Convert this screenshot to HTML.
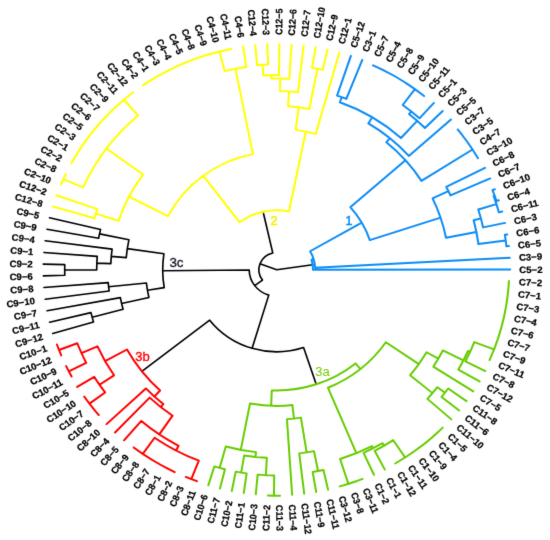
<!DOCTYPE html>
<html><head><meta charset="utf-8"><style>
html,body{margin:0;padding:0;background:#fff;}
svg{display:block;}
</style></head><body>
<svg width="550" height="540" viewBox="0 0 550 540">
<defs><filter id="soft" x="0" y="0" width="550" height="540" filterUnits="userSpaceOnUse"><feConvolveMatrix order="3" kernelMatrix="0.01 0.07 0.01 0.07 0.68 0.07 0.01 0.07 0.01" edgeMode="duplicate"/></filter></defs>
<rect width="550" height="540" fill="#fff"/>
<g filter="url(#soft)">
<g transform="translate(276.7,269.7) scale(1,0.966)" fill="none" stroke-width="1.6" stroke-linecap="round" stroke-linejoin="round">
<path stroke="#000000" stroke-width="1.65" d="M0.00,0.00L35.93,-5.20M-0.00,0.00L-16.71,-6.14M-3.94,-17.36A17.80,17.80 0 0 0 -14.24,10.68M-3.94,-17.36L-13.61,-59.98M-14.24,10.68L-22.00,16.50M-27.50,0.26A27.50,27.50 0 0 0 -7.95,26.32M-27.50,0.26L-114.00,1.06M-112.81,-16.45A114.00,114.00 0 0 0 -112.48,18.56M-112.81,-16.45L-149.42,-21.79M-147.79,-30.96A151.00,151.00 0 0 0 -150.48,-12.54M-147.79,-30.96L-177.16,-37.11M-176.13,-41.70A181.00,181.00 0 0 0 -178.06,-32.50M-176.13,-41.70L-227.22,-53.79M-178.06,-32.50L-229.71,-41.92M-150.48,-12.54L-165.43,-13.79M-164.63,-21.29A166.00,166.00 0 0 0 -165.88,-6.26M-164.63,-21.29L-231.57,-29.94M-165.88,-6.26L-179.87,-6.79M-179.47,-13.79A180.00,180.00 0 0 0 -180.00,0.22M-179.47,-13.79L-232.81,-17.88M-180.00,0.22L-212.00,0.26M-211.94,-5.24A212.00,212.00 0 0 0 -211.92,5.76M-211.94,-5.24L-233.43,-5.78M-211.92,5.76L-233.41,6.35M-112.48,18.56L-129.25,21.32M-130.28,13.74A131.00,131.00 0 0 0 -127.79,28.83M-130.28,13.74L-168.07,17.73M-168.47,13.36A169.00,169.00 0 0 0 -167.55,22.08M-168.47,13.36L-232.77,18.45M-167.55,22.08L-231.50,30.51M-127.79,28.83L-155.10,35.00M-156.35,28.93A159.00,159.00 0 0 0 -153.62,41.01M-156.35,28.93L-229.60,42.48M-153.62,41.01L-184.54,49.26M-185.75,44.45A191.00,191.00 0 0 0 -183.20,54.03M-185.75,44.45L-227.09,54.34M-183.20,54.03L-223.96,66.06M-7.95,26.32L-24.58,81.37M-67.03,52.27A85.00,85.00 0 0 0 26.87,80.64M-67.03,52.27L-134.84,105.16M26.87,80.64L39.52,118.59"/>
<path stroke="#0A8CF5" stroke-width="2.0" d="M36.30,-0.04A36.30,36.30 0 0 0 34.82,-10.25M36.30,-0.04L233.50,-0.29M34.82,-10.25L36.93,-10.88M38.45,-2.05A38.50,38.50 0 0 0 33.42,-19.12M38.45,-2.05L233.17,-12.40M33.42,-19.12L85.06,-48.67M93.10,-30.61A98.00,98.00 0 0 0 73.57,-64.74M93.10,-30.61L163.87,-53.88M169.31,-33.04A172.50,172.50 0 0 0 155.88,-73.88M169.31,-33.04L199.73,-38.97M201.76,-26.59A203.50,203.50 0 0 0 196.95,-51.21M201.76,-26.59L229.02,-30.18M229.73,-24.23A231.00,231.00 0 0 0 228.16,-36.12M229.73,-24.23L232.21,-24.49M228.16,-36.12L230.63,-36.51M196.95,-51.21L204.21,-53.09M206.41,-43.76A211.00,211.00 0 0 0 201.59,-62.32M206.41,-43.76L228.42,-48.43M201.59,-62.32L219.74,-67.93M222.22,-59.32A230.00,230.00 0 0 0 216.93,-76.43M222.22,-59.32L225.60,-60.22M216.93,-76.43L217.87,-76.76M219.79,-71.08A231.00,231.00 0 0 0 215.81,-82.39M219.79,-71.08L222.17,-71.85M215.81,-82.39L218.14,-83.28M155.88,-73.88L171.69,-81.38M173.75,-76.89A190.00,190.00 0 0 0 169.52,-85.81M173.75,-76.89L213.53,-94.49M169.52,-85.81L208.33,-105.45M73.57,-64.74L128.75,-113.30M144.76,-91.96A171.50,171.50 0 0 0 109.62,-131.90M144.76,-91.96L195.83,-124.40M201.28,-115.38A232.00,232.00 0 0 0 189.98,-133.16M195.02,-125.67A232.00,232.00 0 0 0 184.65,-140.46M188.23,-135.62A232.00,232.00 0 0 0 180.94,-145.21M109.62,-131.90L113.13,-136.13M132.11,-117.80A177.00,177.00 0 0 0 91.64,-151.43M132.11,-117.80L174.28,-155.40M91.64,-151.43L95.52,-157.85M124.29,-136.35A184.50,184.50 0 0 0 63.14,-173.36M124.29,-136.35L140.46,-154.09M148.21,-146.65A208.50,208.50 0 0 0 132.34,-161.12M148.21,-146.65L165.98,-164.24M132.34,-161.12L134.56,-163.82M142.75,-156.74A212.00,212.00 0 0 0 126.01,-170.49M142.75,-156.74L157.23,-172.63M126.01,-170.49L138.20,-186.97M147.42,-179.79A232.50,232.50 0 0 0 128.62,-193.68M137.89,-187.19A232.50,232.50 0 0 0 119.04,-199.71M127.99,-194.10A232.50,232.50 0 0 0 109.85,-204.91M117.74,-200.48A232.50,232.50 0 0 0 101.79,-209.04M107.18,-206.32A232.50,232.50 0 0 0 96.33,-211.61M63.14,-173.36L65.02,-178.53M69.64,-176.78A190.00,190.00 0 0 0 60.37,-180.16M69.64,-176.78L85.58,-217.25M60.37,-180.16L74.19,-221.40"/>
<path stroke="#FFFF00" stroke-width="2.0" d="M12.27,-60.26A61.50,61.50 0 0 0 -37.07,-49.07M12.27,-60.26L29.12,-143.07M39.14,-140.66A146.00,146.00 0 0 0 18.96,-144.76M39.14,-140.66L62.60,-224.95M18.96,-144.76L22.01,-168.06M32.59,-166.34A169.50,169.50 0 0 0 11.34,-169.12M32.59,-166.34L40.77,-208.04M46.15,-206.91A212.00,212.00 0 0 0 35.35,-209.03M46.15,-206.91L50.84,-227.90M35.35,-209.03L38.94,-230.23M11.34,-169.12L12.37,-184.59M21.34,-183.76A185.00,185.00 0 0 0 3.38,-184.97M21.34,-183.76L26.94,-231.94M3.38,-184.97L3.61,-197.97M12.60,-197.60A198.00,198.00 0 0 0 -5.38,-197.93M12.60,-197.60L14.86,-233.03M-5.38,-197.93L-5.48,-201.43M2.37,-201.49A201.50,201.50 0 0 0 -13.32,-201.06M2.37,-201.49L2.75,-233.48M-13.32,-201.06L-14.04,-212.04M-8.53,-212.33A212.50,212.50 0 0 0 -19.54,-211.60M-8.53,-212.33L-9.38,-233.31M-19.54,-211.60L-21.47,-232.51M-37.07,-49.07L-73.54,-97.34M-23.74,-119.67A122.00,122.00 0 0 0 -108.62,-55.54M-23.74,-119.67L-41.25,-207.95M-30.43,-209.81A212.00,212.00 0 0 0 -51.97,-205.53M-30.43,-209.81L-33.51,-231.08M-51.97,-205.53L-57.12,-225.89M-45.36,-228.54A233.00,233.00 0 0 0 -68.72,-222.63M-57.17,-225.88A233.00,233.00 0 0 0 -80.10,-218.80M-68.81,-222.61A233.00,233.00 0 0 0 -91.17,-214.42M-80.27,-218.74A233.00,233.00 0 0 0 -101.84,-209.57M-91.52,-214.27A233.00,233.00 0 0 0 -111.91,-204.36M-102.52,-209.23A233.00,233.00 0 0 0 -121.08,-199.07M-113.24,-203.63A233.00,233.00 0 0 0 -128.74,-194.20M-123.66,-197.48A233.00,233.00 0 0 0 -133.74,-190.80M-108.62,-55.54L-147.80,-75.57M-133.64,-98.47A166.00,166.00 0 0 0 -158.07,-50.69M-133.64,-98.47L-170.27,-125.45M-138.67,-159.70A211.50,211.50 0 0 0 -193.62,-85.12M-138.67,-159.70L-152.76,-175.93M-143.46,-183.60A233.00,233.00 0 0 0 -161.65,-167.80M-152.80,-175.90A233.00,233.00 0 0 0 -170.08,-159.25M-161.72,-167.74A233.00,233.00 0 0 0 -178.00,-150.36M-170.21,-159.12A233.00,233.00 0 0 0 -185.33,-141.21M-178.24,-150.07A233.00,233.00 0 0 0 -191.98,-132.03M-185.79,-140.61A233.00,233.00 0 0 0 -197.78,-123.17M-192.84,-130.78A233.00,233.00 0 0 0 -202.43,-115.38M-199.36,-120.59A233.00,233.00 0 0 0 -205.35,-110.08M-193.62,-85.12L-213.30,-93.77M-210.79,-99.28A233.00,233.00 0 0 0 -215.66,-88.20M-158.07,-50.69L-180.92,-58.02M-179.36,-62.70A190.00,190.00 0 0 0 -182.37,-53.31M-179.36,-62.70L-220.42,-77.06M-182.37,-53.31L-224.12,-65.51"/>
<path stroke="#FF0000" stroke-width="2.0" d="M-149.72,82.62A171.00,171.00 0 0 0 -116.60,125.08M-149.72,82.62L-171.60,94.70M-179.23,79.32A196.00,196.00 0 0 0 -162.66,109.35M-179.23,79.32L-195.24,86.40M-199.46,76.15A213.50,213.50 0 0 0 -190.49,96.42M-199.46,76.15L-217.67,83.11M-219.76,77.43A233.00,233.00 0 0 0 -215.44,88.73M-190.49,96.42L-207.89,105.22M-210.55,99.79A233.00,233.00 0 0 0 -205.08,110.59M-162.66,109.35L-177.18,119.12M-182.41,110.95A213.50,213.50 0 0 0 -171.59,127.04M-182.41,110.95L-199.50,121.34M-171.59,127.04L-187.26,138.65M-192.52,131.25A233.00,233.00 0 0 0 -181.72,145.83M-185.44,141.07A233.00,233.00 0 0 0 -177.87,150.50M-116.60,125.08L-122.39,131.30M-130.83,122.90A179.50,179.50 0 0 0 -113.42,139.12M-130.83,122.90L-170.18,159.87M-113.42,139.12L-115.95,142.23M-127.04,132.41A183.50,183.50 0 0 0 -104.10,151.11M-127.04,132.41L-161.66,168.49M-104.10,151.11L-117.43,170.46M-135.36,156.61A207.00,207.00 0 0 0 -98.10,182.28M-135.36,156.61L-152.69,176.65M-98.10,182.28L-100.70,187.12M-122.11,173.91A212.50,212.50 0 0 0 -77.88,197.71M-122.11,173.91L-133.89,190.69M-143.01,183.95A233.00,233.00 0 0 0 -124.45,196.98M-133.27,191.12A233.00,233.00 0 0 0 -115.38,202.43M-123.17,197.78A233.00,233.00 0 0 0 -107.41,206.77M-112.74,203.91A233.00,233.00 0 0 0 -102.01,209.48M-77.88,197.71L-85.40,216.79M-90.99,214.50A233.00,233.00 0 0 0 -79.74,218.93"/>
<path stroke="#66CC00" stroke-width="2.0" d="M-4.92,124.90A125.00,125.00 0 0 0 78.86,96.99M-4.92,124.90L-5.55,140.89M-26.67,138.46A141.00,141.00 0 0 0 15.70,140.12M-26.67,138.46L-35.93,186.57M-50.93,183.05A190.00,190.00 0 0 0 -20.69,188.87M-50.93,183.05L-57.10,205.20M-62.41,203.65A213.00,213.00 0 0 0 -51.75,206.62M-62.41,203.65L-68.41,223.25M-51.75,206.62L-56.73,226.50M-20.69,188.87L-21.24,193.84M-32.52,192.27A195.00,195.00 0 0 0 -9.88,194.75M-32.52,192.27L-35.52,210.02M-40.96,209.02A213.00,213.00 0 0 0 -30.06,210.87M-40.96,209.02L-44.90,229.14M-30.06,210.87L-32.95,231.16M-9.88,194.75L-10.80,212.73M-19.07,212.14A213.00,213.00 0 0 0 -2.50,212.99M-19.07,212.14L-20.91,232.56M-2.50,212.99L-2.75,233.98M-8.83,233.83A234.00,234.00 0 0 0 3.32,233.98M15.70,140.12L17.26,154.04M10.24,154.66A155.00,155.00 0 0 0 24.24,153.09M10.24,154.66L15.43,232.99M24.24,153.09L29.94,189.14M22.56,190.17A191.50,191.50 0 0 0 37.28,187.84M22.56,190.17L27.50,231.87M37.28,187.84L41.37,208.43M35.95,209.44A212.50,212.50 0 0 0 46.77,207.29M35.95,209.44L39.50,230.13M46.77,207.29L51.39,227.77M78.86,96.99L83.59,102.81M51.23,122.20A132.50,132.50 0 0 0 109.17,75.08M51.23,122.20L79.64,189.98M63.39,196.00A206.00,206.00 0 0 0 95.34,182.61M63.39,196.00L71.70,221.69M63.01,224.32A233.00,233.00 0 0 0 80.27,218.74M74.57,220.75A233.00,233.00 0 0 0 85.93,216.58M95.34,182.61L96.49,184.83M86.85,189.55A208.50,208.50 0 0 0 105.88,179.61M86.85,189.55L97.26,212.28M105.88,179.61L107.41,182.20M97.96,187.45A211.50,211.50 0 0 0 116.57,176.47M97.96,187.45L108.15,206.95M116.57,176.47L128.43,194.41M118.49,200.62A233.00,233.00 0 0 0 138.04,187.71M128.74,194.20A233.00,233.00 0 0 0 147.01,180.77M138.65,187.26A233.00,233.00 0 0 0 155.07,173.90M148.18,179.81A233.00,233.00 0 0 0 161.72,167.74M157.31,171.88A233.00,233.00 0 0 0 166.02,163.48M109.17,75.08L142.13,97.75M133.39,109.38A172.50,172.50 0 0 0 149.86,85.43M133.39,109.38L155.81,127.77M150.72,133.74A201.50,201.50 0 0 0 160.67,121.60M150.72,133.74L174.66,154.97M160.67,121.60L168.25,127.34M164.88,131.66A211.00,211.00 0 0 0 171.49,122.93M164.88,131.66L182.47,145.70M171.49,122.93L189.78,136.03M149.86,85.43L161.59,92.11M156.60,100.37A186.00,186.00 0 0 0 166.15,83.61M156.60,100.37L196.59,126.00M166.15,83.61L186.69,93.95M181.58,103.49A209.00,209.00 0 0 0 191.31,84.15M181.58,103.49L202.86,115.63M191.31,84.15L193.42,85.08M188.76,94.96A211.30,211.30 0 0 0 197.56,74.96M188.76,94.96L208.59,104.94M197.56,74.96L217.38,82.49M212.84,93.57A232.50,232.50 0 0 0 221.34,71.18M217.41,82.40A232.50,232.50 0 0 0 224.68,59.78M221.39,71.00A232.50,232.50 0 0 0 227.41,48.41M224.78,59.41A232.50,232.50 0 0 0 229.49,37.28M227.56,47.67A232.50,232.50 0 0 0 230.95,26.82M229.73,35.79A232.50,232.50 0 0 0 231.82,17.81M231.28,23.82A232.50,232.50 0 0 0 232.20,11.78"/>
</g>
<g font-family="&quot;Liberation Sans&quot;, Arial, sans-serif" font-size="9.6" font-weight="bold" fill="#000" stroke="#000" stroke-width="0.25">
<text transform="translate(519.30,269.71) scale(1,0.966) rotate(-0.070) scale(1.0000,1)" dy="0.35em">C5−2</text>
<text transform="translate(518.96,257.51) scale(1,0.966) rotate(-3.045) scale(0.9999,1)" dy="0.35em">C3−9</text>
<text transform="translate(517.96,245.35) scale(1,0.966) rotate(-6.020) scale(0.9996,1)" dy="0.35em">C6−5</text>
<text transform="translate(516.31,233.25) scale(1,0.966) rotate(-8.996) scale(0.9990,1)" dy="0.35em">C6−6</text>
<text transform="translate(514.01,221.25) scale(1,0.966) rotate(-11.971) scale(0.9983,1)" dy="0.35em">C6−3</text>
<text transform="translate(511.07,209.38) scale(1,0.966) rotate(-14.946) scale(0.9973,1)" dy="0.35em">C6−11</text>
<text transform="translate(507.50,197.68) scale(1,0.966) rotate(-17.921) scale(0.9962,1)" dy="0.35em">C6−4</text>
<text transform="translate(503.30,186.17) scale(1,0.966) rotate(-20.896) scale(0.9949,1)" dy="0.35em">C6−10</text>
<text transform="translate(498.49,174.89) scale(1,0.966) rotate(-23.872) scale(0.9934,1)" dy="0.35em">C6−7</text>
<text transform="translate(493.08,163.86) scale(1,0.966) rotate(-26.847) scale(0.9918,1)" dy="0.35em">C6−8</text>
<text transform="translate(487.08,153.12) scale(1,0.966) rotate(-29.822) scale(0.9901,1)" dy="0.35em">C3−10</text>
<text transform="translate(480.52,142.69) scale(1,0.966) rotate(-32.797) scale(0.9883,1)" dy="0.35em">C4−7</text>
<text transform="translate(473.40,132.61) scale(1,0.966) rotate(-35.772) scale(0.9863,1)" dy="0.35em">C3−5</text>
<text transform="translate(465.75,122.90) scale(1,0.966) rotate(-38.748) scale(0.9843,1)" dy="0.35em">C3−7</text>
<text transform="translate(457.59,113.58) scale(1,0.966) rotate(-41.723) scale(0.9823,1)" dy="0.35em">C5−5</text>
<text transform="translate(448.94,104.69) scale(1,0.966) rotate(-44.698) scale(0.9802,1)" dy="0.35em">C5−3</text>
<text transform="translate(439.83,96.24) scale(1,0.966) rotate(-47.673) scale(0.9781,1)" dy="0.35em">C5−1</text>
<text transform="translate(430.27,88.26) scale(1,0.966) rotate(-50.649) scale(0.9761,1)" dy="0.35em">C5−11</text>
<text transform="translate(420.30,80.77) scale(1,0.966) rotate(-53.624) scale(0.9741,1)" dy="0.35em">C5−10</text>
<text transform="translate(409.94,73.79) scale(1,0.966) rotate(-56.599) scale(0.9721,1)" dy="0.35em">C5−9</text>
<text transform="translate(399.21,67.34) scale(1,0.966) rotate(-59.574) scale(0.9703,1)" dy="0.35em">C5−8</text>
<text transform="translate(388.16,61.43) scale(1,0.966) rotate(-62.549) scale(0.9685,1)" dy="0.35em">C5−4</text>
<text transform="translate(376.80,56.09) scale(1,0.966) rotate(-65.525) scale(0.9669,1)" dy="0.35em">C5−7</text>
<text transform="translate(365.17,51.33) scale(1,0.966) rotate(-68.500) scale(0.9654,1)" dy="0.35em">C3−1</text>
<text transform="translate(353.30,47.15) scale(1,0.966) rotate(-71.475) scale(0.9640,1)" dy="0.35em">C5−12</text>
<text transform="translate(341.22,43.57) scale(1,0.966) rotate(-74.450) scale(0.9629,1)" dy="0.35em">C12−1</text>
<text transform="translate(328.97,40.61) scale(1,0.966) rotate(-77.425) scale(0.9619,1)" dy="0.35em">C12−9</text>
<text transform="translate(316.57,38.26) scale(1,0.966) rotate(-80.401) scale(0.9611,1)" dy="0.35em">C12−10</text>
<text transform="translate(304.07,36.54) scale(1,0.966) rotate(-83.376) scale(0.9605,1)" dy="0.35em">C12−7</text>
<text transform="translate(291.48,35.45) scale(1,0.966) rotate(-86.351) scale(0.9602,1)" dy="0.35em">C12−6</text>
<text transform="translate(278.86,34.99) scale(1,0.966) rotate(-89.326) scale(0.9600,1)" dy="0.35em">C12−5</text>
<text transform="translate(266.23,35.16) scale(1,0.966) rotate(-92.301) rotate(180) scale(0.9601,1)" text-anchor="end" dy="0.35em">C12−3</text>
<text transform="translate(253.63,35.97) scale(1,0.966) rotate(-95.277) rotate(180) scale(0.9603,1)" text-anchor="end" dy="0.35em">C12−4</text>
<text transform="translate(241.08,37.41) scale(1,0.966) rotate(-98.252) rotate(180) scale(0.9608,1)" text-anchor="end" dy="0.35em">C4−6</text>
<text transform="translate(228.63,39.47) scale(1,0.966) rotate(-101.227) rotate(180) scale(0.9615,1)" text-anchor="end" dy="0.35em">C4−11</text>
<text transform="translate(216.31,42.16) scale(1,0.966) rotate(-104.202) rotate(180) scale(0.9624,1)" text-anchor="end" dy="0.35em">C4−10</text>
<text transform="translate(204.15,45.46) scale(1,0.966) rotate(-107.177) rotate(180) scale(0.9635,1)" text-anchor="end" dy="0.35em">C4−9</text>
<text transform="translate(192.18,49.36) scale(1,0.966) rotate(-110.153) rotate(180) scale(0.9647,1)" text-anchor="end" dy="0.35em">C4−8</text>
<text transform="translate(180.44,53.86) scale(1,0.966) rotate(-113.128) rotate(180) scale(0.9662,1)" text-anchor="end" dy="0.35em">C4−5</text>
<text transform="translate(168.95,58.94) scale(1,0.966) rotate(-116.103) rotate(180) scale(0.9677,1)" text-anchor="end" dy="0.35em">C4−4</text>
<text transform="translate(157.76,64.60) scale(1,0.966) rotate(-119.078) rotate(180) scale(0.9694,1)" text-anchor="end" dy="0.35em">C4−3</text>
<text transform="translate(146.88,70.80) scale(1,0.966) rotate(-122.053) rotate(180) scale(0.9713,1)" text-anchor="end" dy="0.35em">C4−1</text>
<text transform="translate(136.35,77.54) scale(1,0.966) rotate(-125.029) rotate(180) scale(0.9732,1)" text-anchor="end" dy="0.35em">C4−2</text>
<text transform="translate(126.20,84.81) scale(1,0.966) rotate(-128.004) rotate(180) scale(0.9752,1)" text-anchor="end" dy="0.35em">C2−12</text>
<text transform="translate(116.45,92.57) scale(1,0.966) rotate(-130.979) rotate(180) scale(0.9772,1)" text-anchor="end" dy="0.35em">C2−11</text>
<text transform="translate(107.13,100.80) scale(1,0.966) rotate(-133.954) rotate(180) scale(0.9793,1)" text-anchor="end" dy="0.35em">C2−9</text>
<text transform="translate(98.27,109.50) scale(1,0.966) rotate(-136.930) rotate(180) scale(0.9813,1)" text-anchor="end" dy="0.35em">C2−7</text>
<text transform="translate(89.88,118.63) scale(1,0.966) rotate(-139.905) rotate(180) scale(0.9834,1)" text-anchor="end" dy="0.35em">C2−6</text>
<text transform="translate(82.00,128.16) scale(1,0.966) rotate(-142.880) rotate(180) scale(0.9854,1)" text-anchor="end" dy="0.35em">C2−5</text>
<text transform="translate(74.64,138.08) scale(1,0.966) rotate(-145.855) rotate(180) scale(0.9874,1)" text-anchor="end" dy="0.35em">C2−3</text>
<text transform="translate(67.82,148.36) scale(1,0.966) rotate(-148.830) rotate(180) scale(0.9893,1)" text-anchor="end" dy="0.35em">C2−1</text>
<text transform="translate(61.57,158.96) scale(1,0.966) rotate(-151.806) rotate(180) scale(0.9911,1)" text-anchor="end" dy="0.35em">C2−2</text>
<text transform="translate(55.89,169.86) scale(1,0.966) rotate(-154.781) rotate(180) scale(0.9927,1)" text-anchor="end" dy="0.35em">C2−8</text>
<text transform="translate(50.81,181.03) scale(1,0.966) rotate(-157.756) rotate(180) scale(0.9943,1)" text-anchor="end" dy="0.35em">C2−10</text>
<text transform="translate(46.33,192.44) scale(1,0.966) rotate(-160.731) rotate(180) scale(0.9956,1)" text-anchor="end" dy="0.35em">C12−2</text>
<text transform="translate(42.47,204.06) scale(1,0.966) rotate(-163.706) rotate(180) scale(0.9969,1)" text-anchor="end" dy="0.35em">C12−8</text>
<text transform="translate(39.24,215.86) scale(1,0.966) rotate(-166.682) rotate(180) scale(0.9979,1)" text-anchor="end" dy="0.35em">C9−5</text>
<text transform="translate(36.65,227.80) scale(1,0.966) rotate(-169.657) rotate(180) scale(0.9987,1)" text-anchor="end" dy="0.35em">C9−9</text>
<text transform="translate(34.71,239.86) scale(1,0.966) rotate(-172.632) rotate(180) scale(0.9993,1)" text-anchor="end" dy="0.35em">C9−4</text>
<text transform="translate(33.41,252.00) scale(1,0.966) rotate(-175.607) rotate(180) scale(0.9998,1)" text-anchor="end" dy="0.35em">C9−1</text>
<text transform="translate(32.77,264.19) scale(1,0.966) rotate(-178.582) rotate(180) scale(1.0000,1)" text-anchor="end" dy="0.35em">C9−2</text>
<text transform="translate(32.79,276.39) scale(1,0.966) rotate(-181.558) rotate(180) scale(1.0000,1)" text-anchor="end" dy="0.35em">C9−6</text>
<text transform="translate(33.46,288.57) scale(1,0.966) rotate(-184.533) rotate(180) scale(0.9998,1)" text-anchor="end" dy="0.35em">C9−8</text>
<text transform="translate(34.79,300.71) scale(1,0.966) rotate(-187.508) rotate(180) scale(0.9993,1)" text-anchor="end" dy="0.35em">C9−10</text>
<text transform="translate(36.76,312.76) scale(1,0.966) rotate(-190.483) rotate(180) scale(0.9987,1)" text-anchor="end" dy="0.35em">C9−7</text>
<text transform="translate(39.38,324.70) scale(1,0.966) rotate(-193.458) rotate(180) scale(0.9978,1)" text-anchor="end" dy="0.35em">C9−11</text>
<text transform="translate(42.64,336.49) scale(1,0.966) rotate(-196.434) rotate(180) scale(0.9968,1)" text-anchor="end" dy="0.35em">C9−12</text>
<text transform="translate(46.53,348.10) scale(1,0.966) rotate(-199.409) rotate(180) scale(0.9956,1)" text-anchor="end" dy="0.35em">C10−1</text>
<text transform="translate(51.03,359.50) scale(1,0.966) rotate(-202.384) rotate(180) scale(0.9942,1)" text-anchor="end" dy="0.35em">C10−12</text>
<text transform="translate(56.14,370.66) scale(1,0.966) rotate(-205.359) rotate(180) scale(0.9927,1)" text-anchor="end" dy="0.35em">C10−9</text>
<text transform="translate(61.85,381.55) scale(1,0.966) rotate(-208.334) rotate(180) scale(0.9910,1)" text-anchor="end" dy="0.35em">C10−11</text>
<text transform="translate(68.13,392.14) scale(1,0.966) rotate(-211.310) rotate(180) scale(0.9892,1)" text-anchor="end" dy="0.35em">C10−5</text>
<text transform="translate(74.97,402.39) scale(1,0.966) rotate(-214.285) rotate(180) scale(0.9873,1)" text-anchor="end" dy="0.35em">C10−10</text>
<text transform="translate(82.36,412.29) scale(1,0.966) rotate(-217.260) rotate(180) scale(0.9853,1)" text-anchor="end" dy="0.35em">C10−7</text>
<text transform="translate(90.27,421.81) scale(1,0.966) rotate(-220.235) rotate(180) scale(0.9833,1)" text-anchor="end" dy="0.35em">C10−8</text>
<text transform="translate(98.67,430.92) scale(1,0.966) rotate(-223.210) rotate(180) scale(0.9812,1)" text-anchor="end" dy="0.35em">C8−10</text>
<text transform="translate(107.56,439.59) scale(1,0.966) rotate(-226.186) rotate(180) scale(0.9792,1)" text-anchor="end" dy="0.35em">C8−4</text>
<text transform="translate(116.90,447.81) scale(1,0.966) rotate(-229.161) rotate(180) scale(0.9771,1)" text-anchor="end" dy="0.35em">C8−5</text>
<text transform="translate(126.67,455.55) scale(1,0.966) rotate(-232.136) rotate(180) scale(0.9751,1)" text-anchor="end" dy="0.35em">C8−9</text>
<text transform="translate(136.84,462.79) scale(1,0.966) rotate(-235.111) rotate(180) scale(0.9731,1)" text-anchor="end" dy="0.35em">C8−8</text>
<text transform="translate(147.38,469.50) scale(1,0.966) rotate(-238.087) rotate(180) scale(0.9712,1)" text-anchor="end" dy="0.35em">C8−7</text>
<text transform="translate(158.28,475.68) scale(1,0.966) rotate(-241.062) rotate(180) scale(0.9694,1)" text-anchor="end" dy="0.35em">C8−1</text>
<text transform="translate(169.49,481.31) scale(1,0.966) rotate(-244.037) rotate(180) scale(0.9677,1)" text-anchor="end" dy="0.35em">C8−2</text>
<text transform="translate(180.98,486.36) scale(1,0.966) rotate(-247.012) rotate(180) scale(0.9661,1)" text-anchor="end" dy="0.35em">C8−3</text>
<text transform="translate(192.74,490.84) scale(1,0.966) rotate(-249.987) rotate(180) scale(0.9647,1)" text-anchor="end" dy="0.35em">C8−11</text>
<text transform="translate(204.71,494.71) scale(1,0.966) rotate(-252.963) rotate(180) scale(0.9634,1)" text-anchor="end" dy="0.35em">C10−6</text>
<text transform="translate(216.88,497.98) scale(1,0.966) rotate(-255.938) rotate(180) scale(0.9624,1)" text-anchor="end" dy="0.35em">C11−7</text>
<text transform="translate(229.21,500.64) scale(1,0.966) rotate(-258.913) rotate(180) scale(0.9615,1)" text-anchor="end" dy="0.35em">C10−2</text>
<text transform="translate(241.67,502.68) scale(1,0.966) rotate(-261.888) rotate(180) scale(0.9608,1)" text-anchor="end" dy="0.35em">C11−1</text>
<text transform="translate(254.22,504.08) scale(1,0.966) rotate(-264.863) rotate(180) scale(0.9603,1)" text-anchor="end" dy="0.35em">C10−3</text>
<text transform="translate(266.82,504.86) scale(1,0.966) rotate(-267.839) rotate(180) scale(0.9601,1)" text-anchor="end" dy="0.35em">C11−2</text>
<text transform="translate(279.46,505.00) scale(1,0.966) rotate(-270.814) scale(0.9600,1)" dy="0.35em">C11−3</text>
<text transform="translate(292.08,504.51) scale(1,0.966) rotate(-273.789) scale(0.9602,1)" dy="0.35em">C11−4</text>
<text transform="translate(304.66,503.39) scale(1,0.966) rotate(-276.764) scale(0.9606,1)" dy="0.35em">C11−12</text>
<text transform="translate(317.16,501.64) scale(1,0.966) rotate(-279.739) scale(0.9611,1)" dy="0.35em">C11−9</text>
<text transform="translate(329.55,499.26) scale(1,0.966) rotate(-282.715) scale(0.9619,1)" dy="0.35em">C11−11</text>
<text transform="translate(341.80,496.27) scale(1,0.966) rotate(-285.690) scale(0.9629,1)" dy="0.35em">C3−12</text>
<text transform="translate(353.86,492.67) scale(1,0.966) rotate(-288.665) scale(0.9641,1)" dy="0.35em">C3−8</text>
<text transform="translate(365.72,488.46) scale(1,0.966) rotate(-291.640) scale(0.9654,1)" dy="0.35em">C3−11</text>
<text transform="translate(377.34,483.67) scale(1,0.966) rotate(-294.615) scale(0.9669,1)" dy="0.35em">C1−2</text>
<text transform="translate(388.68,478.30) scale(1,0.966) rotate(-297.591) scale(0.9686,1)" dy="0.35em">C1−1</text>
<text transform="translate(399.72,472.37) scale(1,0.966) rotate(-300.566) scale(0.9703,1)" dy="0.35em">C1−12</text>
<text transform="translate(410.43,465.89) scale(1,0.966) rotate(-303.541) scale(0.9722,1)" dy="0.35em">C1−11</text>
<text transform="translate(420.78,458.89) scale(1,0.966) rotate(-306.516) scale(0.9742,1)" dy="0.35em">C1−10</text>
<text transform="translate(430.73,451.38) scale(1,0.966) rotate(-309.491) scale(0.9762,1)" dy="0.35em">C1−9</text>
<text transform="translate(440.27,443.37) scale(1,0.966) rotate(-312.467) scale(0.9782,1)" dy="0.35em">C1−4</text>
<text transform="translate(449.36,434.90) scale(1,0.966) rotate(-315.442) scale(0.9803,1)" dy="0.35em">C1−5</text>
<text transform="translate(457.99,425.99) scale(1,0.966) rotate(-318.417) scale(0.9824,1)" dy="0.35em">C11−10</text>
<text transform="translate(466.12,416.65) scale(1,0.966) rotate(-321.392) scale(0.9844,1)" dy="0.35em">C11−6</text>
<text transform="translate(473.75,406.92) scale(1,0.966) rotate(-324.368) scale(0.9864,1)" dy="0.35em">C11−8</text>
<text transform="translate(480.84,396.82) scale(1,0.966) rotate(-327.343) scale(0.9884,1)" dy="0.35em">C7−5</text>
<text transform="translate(487.38,386.38) scale(1,0.966) rotate(-330.318) scale(0.9902,1)" dy="0.35em">C7−12</text>
<text transform="translate(493.34,375.63) scale(1,0.966) rotate(-333.293) scale(0.9919,1)" dy="0.35em">C7−8</text>
<text transform="translate(498.73,364.59) scale(1,0.966) rotate(-336.268) scale(0.9935,1)" dy="0.35em">C7−11</text>
<text transform="translate(503.51,353.29) scale(1,0.966) rotate(-339.244) scale(0.9950,1)" dy="0.35em">C7−9</text>
<text transform="translate(507.68,341.77) scale(1,0.966) rotate(-342.219) scale(0.9963,1)" dy="0.35em">C7−7</text>
<text transform="translate(511.22,330.06) scale(1,0.966) rotate(-345.194) scale(0.9974,1)" dy="0.35em">C7−6</text>
<text transform="translate(514.13,318.19) scale(1,0.966) rotate(-348.169) scale(0.9983,1)" dy="0.35em">C7−4</text>
<text transform="translate(516.40,306.18) scale(1,0.966) rotate(-351.144) scale(0.9991,1)" dy="0.35em">C7−3</text>
<text transform="translate(518.02,294.08) scale(1,0.966) rotate(-354.120) scale(0.9996,1)" dy="0.35em">C7−1</text>
<text transform="translate(518.99,281.91) scale(1,0.966) rotate(-357.095) scale(0.9999,1)" dy="0.35em">C7−2</text>
</g>
<text x="349.0" y="224.8" font-family="&quot;Liberation Sans&quot;, Arial, sans-serif" font-size="12.5" fill="#0A8CF5" stroke="#0A8CF5" stroke-width="0.5" text-anchor="middle" transform="translate(0,7.64) scale(1,0.966)">1</text>
<text x="273.9" y="224.7" font-family="&quot;Liberation Sans&quot;, Arial, sans-serif" font-size="12.5" fill="#F5F000" stroke="#F5F000" stroke-width="0.6" text-anchor="middle" transform="translate(0,7.64) scale(1,0.966)">2</text>
<text x="176.5" y="266.7" font-family="&quot;Liberation Sans&quot;, Arial, sans-serif" font-size="13.4" fill="#141828" stroke="#141828" stroke-width="0.3" text-anchor="middle" transform="translate(0,9.07) scale(1,0.966)">3c</text>
<text x="142.4" y="360.8" font-family="&quot;Liberation Sans&quot;, Arial, sans-serif" font-size="13" fill="#FF0000" stroke="#FF0000" stroke-width="0.35" text-anchor="middle" transform="translate(0,12.27) scale(1,0.966)">3b</text>
<text x="322.5" y="375.8" font-family="&quot;Liberation Sans&quot;, Arial, sans-serif" font-size="13" fill="#74CC00" stroke="#74CC00" stroke-width="0.0" text-anchor="middle" transform="translate(0,12.78) scale(1,0.966)">3a</text>
</g>
</svg>
</body></html>
